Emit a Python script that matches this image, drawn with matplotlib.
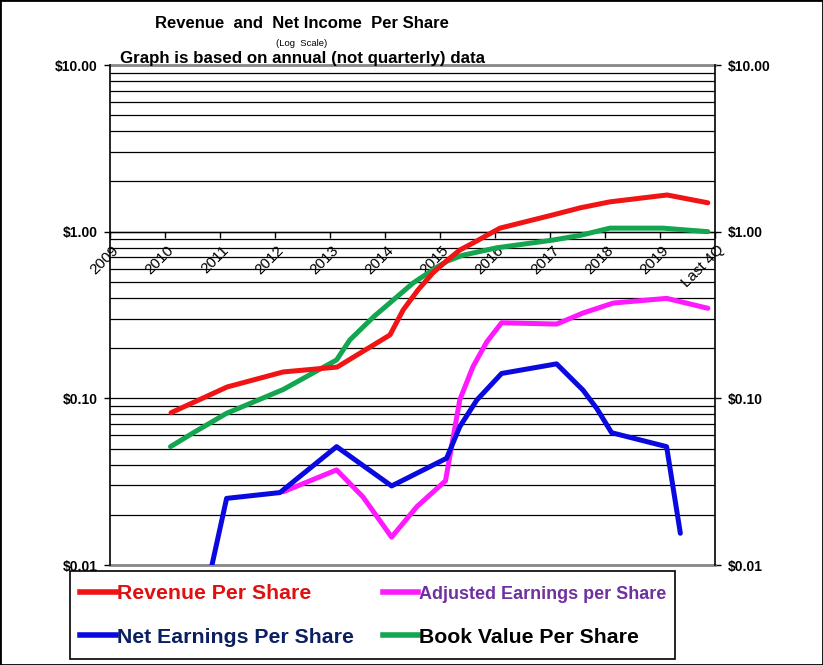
import numpy as np
import matplotlib
matplotlib.use("Agg")
import matplotlib.pyplot as plt
from matplotlib.ticker import LogLocator, FixedLocator, NullFormatter
from matplotlib.lines import Line2D
from matplotlib.patches import Rectangle
from matplotlib.transforms import ScaledTranslation

plt.rcParams['font.family'] = ['Liberation Sans', 'DejaVu Sans']

# x positions are in years (2009 = left edge, "Last 4Q" = right edge)
year_labels = ['2009', '2010', '2011', '2012', '2013', '2014', '2015',
               '2016', '2017', '2018', '2019', 'Last 4Q']

rev_x = [2010.11, 2011.13, 2012.15, 2013.13, 2014.09, 2014.33, 2014.6, 2014.87,
         2015.1, 2015.36, 2015.6, 2016.09, 2017.05, 2017.55, 2018.09, 2019.13, 2019.87]
rev_y = [0.082, 0.117, 0.144, 0.154, 0.24, 0.339, 0.447, 0.565,
         0.66, 0.776, 0.855, 1.05, 1.26, 1.39, 1.51, 1.66, 1.49]

book_x = [2010.10, 2010.51, 2011.12, 2012.15, 2013.12, 2013.36, 2013.8, 2014.15,
          2014.51, 2014.95, 2015.13, 2015.4, 2016.03, 2017.05, 2017.55, 2018.09,
          2019.05, 2019.87]
book_y = [0.0513, 0.062, 0.0813, 0.113, 0.170, 0.224, 0.31, 0.389,
          0.492, 0.614, 0.665, 0.72, 0.80, 0.89, 0.95, 1.05,
          1.05, 1.0]

adj_x = [2012.15, 2013.12, 2013.6, 2014.12, 2014.58, 2015.1, 2015.36, 2015.6,
         2015.85, 2016.12, 2017.12, 2017.6, 2018.15, 2019.12, 2019.87]
adj_y = [0.0275, 0.0372, 0.0256, 0.0147, 0.0224, 0.0320, 0.098, 0.155,
         0.218, 0.284, 0.279, 0.325, 0.373, 0.398, 0.347]

net_x = [2010.11, 2011.12, 2012.09, 2013.12, 2014.12, 2015.12, 2015.36, 2015.67,
         2016.12, 2017.12, 2017.6, 2017.85, 2018.12, 2019.12, 2019.37]
net_y = [0.00076, 0.0251, 0.0272, 0.0513, 0.0298, 0.0437, 0.0676, 0.0977,
         0.141, 0.161, 0.112, 0.087, 0.0622, 0.0513, 0.0155]

c_rev = '#f01414'
c_adj = '#ff19ff'
c_net = '#0a0ae0'
c_book = '#14a550'

fig = plt.figure(figsize=(8.23, 6.65), dpi=100)
ax = fig.add_axes([110/823, 1-565/665, 605/823, 500/665])

lw = 3.6
ax.plot(rev_x, rev_y, color=c_rev, lw=lw, solid_capstyle='round', zorder=5)
ax.plot(book_x, book_y, color=c_book, lw=lw, solid_capstyle='round', zorder=4)
ax.plot(adj_x, adj_y, color=c_adj, lw=lw, solid_capstyle='round', zorder=5)
ax.plot(net_x, net_y, color=c_net, lw=lw, solid_capstyle='round', zorder=6)

ax.set_yscale('log')
ax.set_ylim(0.01, 10)
ax.set_xlim(2009, 2020)

ax.yaxis.set_major_locator(FixedLocator([0.01, 0.1, 1, 10]))
ax.set_yticklabels(['$0.01', '$0.10', '$1.00', '$10.00'])
ax.yaxis.set_minor_locator(LogLocator(base=10, subs=range(2, 10)))
ax.yaxis.set_minor_formatter(NullFormatter())
ax.tick_params(axis='y', which='major', direction='out', length=4, width=1,
               labelsize=10, left=True, right=True, labelleft=True, labelright=True, pad=5)
ax.tick_params(axis='y', which='minor', length=0)
for t in ax.get_yticklabels():
    t.set_fontweight('bold')

ax.grid(which='both', axis='y', color='black', lw=0.9, zorder=1)
ax.axhline(10, color='#888888', lw=2, zorder=2, clip_on=False)
ax.axhline(0.01, color='#888888', lw=2, zorder=2, clip_on=False)

ax.spines['top'].set_visible(False)
ax.spines['bottom'].set_position(('data', 1.0))
ax.spines['bottom'].set_linewidth(1)
ax.spines['left'].set_linewidth(1.2)
ax.spines['right'].set_linewidth(1.2)

ax.set_xticks(np.arange(2009, 2021))
ax.set_xticklabels(year_labels)
ax.tick_params(axis='x', direction='out', length=4, width=1, pad=4, labelsize=11)
for t in ax.get_xticklabels():
    t.set_rotation(45)
    t.set_ha('right')
    t.set_va('top')
    t.set_rotation_mode('anchor')
    t.set_transform(t.get_transform() + ScaledTranslation(2/100, 0, fig.dpi_scale_trans))

# titles
fig.text(302/823, 1-24/665, 'Revenue  and  Net Income  Per Share', ha='center', va='center',
         fontsize=12, fontweight='bold')
fig.text(302/823, 1-43/665, '(Log  Scale)', ha='center', va='center', fontsize=6.8)
fig.text(302/823, 1-59/665, 'Graph is based on annual (not quarterly) data', ha='center',
         va='center', fontsize=12.2, fontweight='bold')

# legend
handles = [Line2D([], [], color=c_rev, lw=4),
           Line2D([], [], color=c_net, lw=4),
           Line2D([], [], color=c_adj, lw=4),
           Line2D([], [], color=c_book, lw=4)]
labels = ['Revenue Per Share', 'Net Earnings Per Share',
          'Adjusted Earnings per Share', 'Book Value Per Share']
leg = fig.legend(handles, labels, ncol=2, loc='upper left',
                 bbox_to_anchor=(73/823, 1-577/665),
                 prop={'weight': 'bold', 'size': 15.3},
                 labelcolor=['#e01010', '#0a2060', '#7030a0', 'black'],
                 frameon=False,
                 handlelength=1.65, handletextpad=0.05, columnspacing=1.4,
                 labelspacing=1.15, borderpad=0.35, borderaxespad=0)
leg.get_texts()[2].set_fontsize(13)

fig.patches.append(Rectangle((70/823, 1-659/665), 605/823, 88/665, transform=fig.transFigure,
                             fill=False, edgecolor='black', lw=1.2))
fig.patches.append(Rectangle((0, 0), 1, 1, transform=fig.transFigure, fill=False,
                             edgecolor='black', lw=2))

fig.savefig('out.png', dpi=100)
